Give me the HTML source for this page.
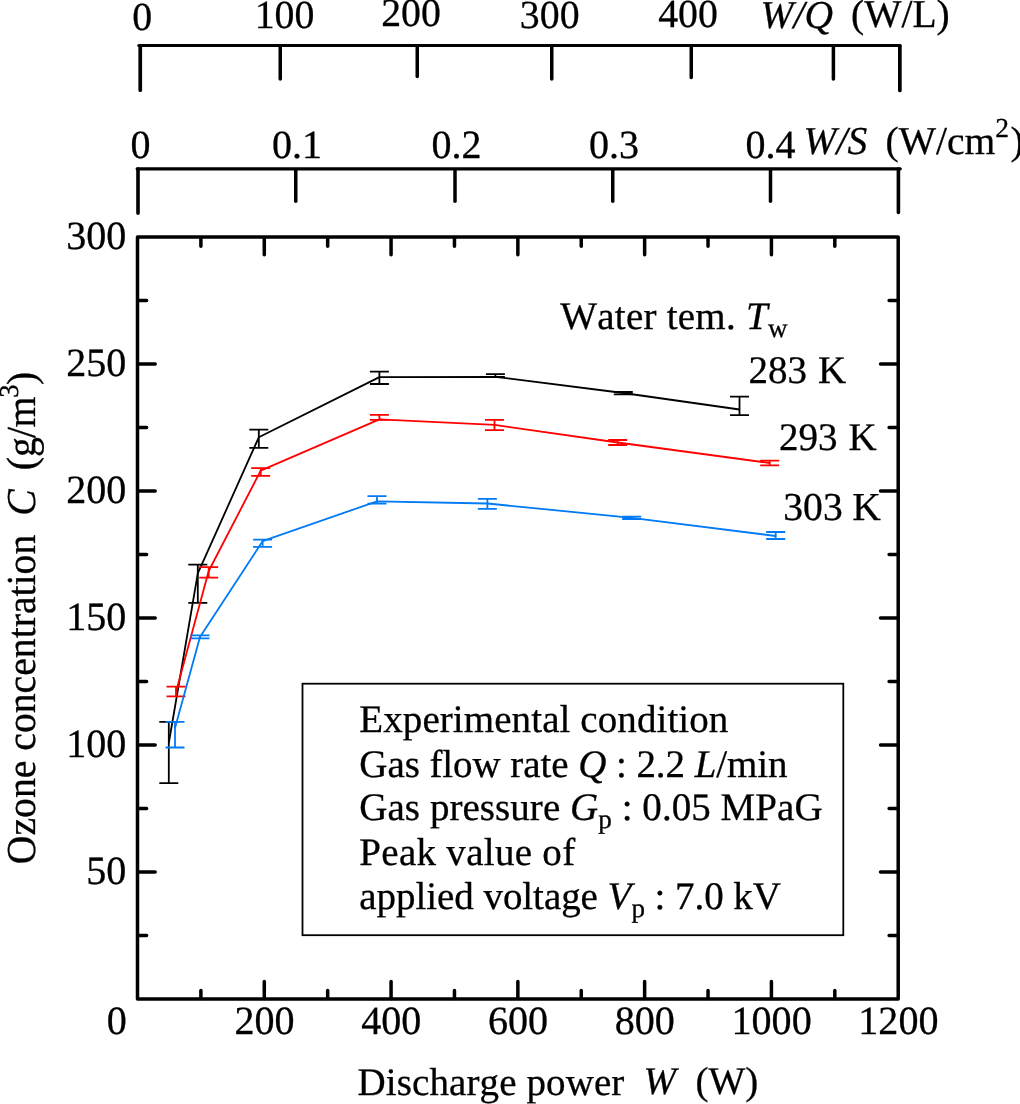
<!DOCTYPE html>
<html lang="en"><head><meta charset="utf-8"><title>Ozone concentration vs discharge power</title>
<style>html,body{margin:0;padding:0;background:#fff}body{width:1020px;height:1104px;overflow:hidden}svg{display:block;font-family:"Liberation Serif","Times New Roman",serif;font-size:39px;fill:#000;font-kerning:none;font-variant-ligatures:none;text-rendering:geometricPrecision}text{stroke:#000;stroke-width:0.3px}.i{font-style:italic}.ax{stroke:#000;stroke-width:3.5;fill:none;stroke-linecap:round;stroke-linejoin:round}.tk{stroke:#000;stroke-width:3.5;fill:none;stroke-linecap:round}.k{stroke:#000}.r{stroke:#ff0000}.b{stroke:#007af5}.d{stroke-width:1.8;fill:none;stroke-linejoin:round}</style></head><body>
<svg width="1020" height="1104" viewBox="0 0 1020 1104">
<rect width="1020" height="1104" fill="#fff"/>
<g id="axis-wq">
<path class="ax" style="stroke-width:3.2" d="M138.9,45.5 H900"/>
<path class="ax" style="stroke-width:3.7" d="M140.25,46 V90.2 M899.85,46 V90.4"/>
<path class="tk" d="M280.25,46 V78.9"/>
<path class="tk" d="M417.25,46 V76.4"/>
<path class="tk" d="M551.75,46 V78.9"/>
<path class="tk" d="M691.25,46 V77.4"/>
<path class="tk" d="M833.4,46 V78.9"/>
<text x="142.3" y="30.1" text-anchor="middle" font-size="39.8">0</text>
<text x="284.5" y="27.9" text-anchor="middle" font-size="39.8">100</text>
<text x="411" y="26" text-anchor="middle" font-size="39.8">200</text>
<text x="549.7" y="27.8" text-anchor="middle" font-size="39.8">300</text>
<text x="688" y="27" text-anchor="middle" font-size="39.8">400</text>
<text x="760.5" y="27.5" font-size="39.5" class="i">W/Q</text>
<text x="851" y="27.2" font-size="39.5">(W/L)</text>
</g>
<g id="axis-ws">
<path class="ax" style="stroke-width:3.3" d="M137.2,168.85 H900.2"/>
<path class="ax" style="stroke-width:3.6" d="M138,169 V213.2 M898.4,169 V212.4"/>
<path class="tk" d="M295.75,169.5 V201.2"/>
<path class="tk" d="M455,169.5 V201.2"/>
<path class="tk" d="M612.75,169.5 V201.2"/>
<path class="tk" d="M770.5,169.5 V201.2"/>
<text x="140.5" y="157.7" text-anchor="middle" font-size="40">0</text>
<text x="297" y="157.7" text-anchor="middle" font-size="40">0.1</text>
<text x="456.6" y="157.7" text-anchor="middle" font-size="40">0.2</text>
<text x="614" y="157.7" text-anchor="middle" font-size="40">0.3</text>
<text x="770.6" y="157.7" text-anchor="middle" font-size="40">0.4</text>
<text x="803.5" y="153.8" font-size="39.5" class="i">W/S</text>
<text x="885.5" y="153.9" font-size="39.5">(W/cm<tspan dy="-17" font-size="27.5">2</tspan><tspan dy="17" dx="1.5">)</tspan></text>
</g>
<g id="frame">
<rect class="ax" x="137.5" y="236.89" width="760.704" height="762.21"/>
<path class="tk" d="M200.892,998.6 v-8 M200.892,237.39 v8.9"/>
<path class="tk" d="M264.284,998.6 v-17 M264.284,237.39 v17.4"/>
<path class="tk" d="M327.676,998.6 v-8 M327.676,237.39 v8.9"/>
<path class="tk" d="M391.068,998.6 v-17 M391.068,237.39 v17.4"/>
<path class="tk" d="M454.46,998.6 v-8 M454.46,237.39 v8.9"/>
<path class="tk" d="M517.852,998.6 v-17 M517.852,237.39 v17.4"/>
<path class="tk" d="M581.244,998.6 v-8 M581.244,237.39 v8.9"/>
<path class="tk" d="M644.636,998.6 v-17 M644.636,237.39 v17.4"/>
<path class="tk" d="M708.028,998.6 v-8 M708.028,237.39 v8.9"/>
<path class="tk" d="M771.42,998.6 v-17 M771.42,237.39 v17.4"/>
<path class="tk" d="M834.812,998.6 v-8 M834.812,237.39 v8.9"/>
<path class="tk" d="M138,935.582 h8.6 M897.704,935.582 h-8.6"/>
<path class="tk" d="M138,872.065 h17.2 M897.704,872.065 h-17.2"/>
<path class="tk" d="M138,808.548 h8.6 M897.704,808.548 h-8.6"/>
<path class="tk" d="M138,745.03 h17.2 M897.704,745.03 h-17.2"/>
<path class="tk" d="M138,681.513 h8.6 M897.704,681.513 h-8.6"/>
<path class="tk" d="M138,617.995 h17.2 M897.704,617.995 h-17.2"/>
<path class="tk" d="M138,554.477 h8.6 M897.704,554.477 h-8.6"/>
<path class="tk" d="M138,490.96 h17.2 M897.704,490.96 h-17.2"/>
<path class="tk" d="M138,427.442 h8.6 M897.704,427.442 h-8.6"/>
<path class="tk" d="M138,363.925 h17.2 M897.704,363.925 h-17.2"/>
<path class="tk" d="M138,300.408 h8.6 M897.704,300.408 h-8.6"/>
</g>
<g id="labels">
<text x="264.484" y="1033.8" text-anchor="middle" font-size="40.1">200</text>
<text x="391.268" y="1033.8" text-anchor="middle" font-size="40.1">400</text>
<text x="518.052" y="1033.8" text-anchor="middle" font-size="40.1">600</text>
<text x="644.836" y="1033.8" text-anchor="middle" font-size="40.1">800</text>
<text x="771.62" y="1033.8" text-anchor="middle" font-size="40.1">1000</text>
<text x="898.404" y="1033.8" text-anchor="middle" font-size="40.1">1200</text>
<text x="116.7" y="1033.8" text-anchor="middle" font-size="40.1">0</text>
<text x="126.4" y="884.265" text-anchor="end" font-size="40.1">50</text>
<text x="126.4" y="757.23" text-anchor="end" font-size="40.1">100</text>
<text x="126.4" y="630.195" text-anchor="end" font-size="40.1">150</text>
<text x="126.4" y="503.16" text-anchor="end" font-size="40.1">200</text>
<text x="126.4" y="376.125" text-anchor="end" font-size="40.1">250</text>
<text x="126.4" y="249.09" text-anchor="end" font-size="40.1">300</text>
<text x="357.6" y="1094.7" letter-spacing="0.1">Discharge power</text>
<text x="643.5" y="1094.3" class="i">W</text>
<text x="695.5" y="1094.3">(W)</text>
<text transform="translate(35.2,864.2) rotate(-90) scale(1,1.035)" font-size="39.7">Ozone concentration<tspan dx="19" class="i">C</tspan><tspan dx="19">(g</tspan><tspan dx="-0.9">/</tspan><tspan dx="-0.4">m</tspan><tspan dy="-17" dx="-1.2" font-size="26.5">3</tspan><tspan dy="17" dx="-0.5">)</tspan></text>
</g>
<g id="data">
<polyline class="d k" points="168.8,743 197.8,573.4 258.8,437.3 379.4,377.1 495.4,376.8 623.3,393 739.5,409.5"/>
<path class="d k" d="M168.8,721.8 V783.2 M159.3,721.8 h19 M159.3,783.2 h19 M197.8,564.6 V602.9 M188.3,564.6 h19 M188.3,602.9 h19 M258.8,429.7 V447.8 M249.3,429.7 h19 M249.3,447.8 h19 M379.4,371.6 V384 M369.9,371.6 h19 M369.9,384 h19 M495.4,374.1 V376.9 M485.9,374.1 h19 M485.9,376.9 h19 M623.3,392 V394.3 M613.8,392 h19 M613.8,394.3 h19 M739.5,396.6 V415.1 M730,396.6 h19 M730,415.1 h19"/>
<polyline class="d r" points="176,692 208.7,571 260.7,470.7 379.4,419.4 494.5,424.9 617.7,442.5 769.7,463"/>
<path class="d r" d="M176,686.6 V696.4 M166.5,686.6 h19 M166.5,696.4 h19 M208.7,567.2 V577.6 M199.2,567.2 h19 M199.2,577.6 h19 M260.7,468.2 V475.8 M251.2,468.2 h19 M251.2,475.8 h19 M379.4,414.8 V419.8 M369.9,414.8 h19 M369.9,419.8 h19 M494.5,419.8 V430.2 M485,419.8 h19 M485,430.2 h19 M617.7,440 V445 M608.2,440 h19 M608.2,445 h19 M769.7,460.7 V465.3 M760.2,460.7 h19 M760.2,465.3 h19"/>
<polyline class="d b" points="175,728 200,637 262.6,541.2 377,501.3 487.4,503.5 631.7,517.8 775.7,536"/>
<path class="d b" d="M175,721.8 V747.5 M165.5,721.8 h19 M165.5,747.5 h19 M200,635.4 V638.4 M190.5,635.4 h19 M190.5,638.4 h19 M262.6,539.7 V546.9 M253.1,539.7 h19 M253.1,546.9 h19 M377,496.1 V503.7 M367.5,496.1 h19 M367.5,503.7 h19 M487.4,498.8 V508.8 M477.9,498.8 h19 M477.9,508.8 h19 M631.7,516.7 V519 M622.2,516.7 h19 M622.2,519 h19 M775.7,532 V539 M766.2,532 h19 M766.2,539 h19"/>
</g>
<g id="legend">
<text x="560.2" y="328.7" letter-spacing="0.25">Water tem. <tspan class="i">T</tspan><tspan dy="8" font-size="27">w</tspan></text>
<text x="748.4" y="382.6">283<tspan dx="11.2">K</tspan></text>
<text x="779" y="450">293<tspan dx="11">K</tspan></text>
<text x="783.3" y="520.3" font-size="39.6">303<tspan dx="9.6">K</tspan></text>
</g>
<g id="conditions">
<rect x="302.5" y="683.7" width="540.8" height="251.5" fill="#fff" stroke="#000" stroke-width="1.8"/>
<text x="359.3" y="732.4" letter-spacing="0.09">Experimental condition</text>
<text x="359.3" y="776.8" letter-spacing="-0.07">Gas flow rate <tspan class="i">Q</tspan> : 2.2 <tspan class="i">L</tspan>/min</text>
<text x="359.3" y="820.3" letter-spacing="0.05">Gas pressure <tspan class="i">G</tspan><tspan dy="8" font-size="27">p</tspan><tspan dy="-8"> : 0.05 MPaG</tspan></text>
<text x="359.3" y="865.1" letter-spacing="0.3">Peak value of</text>
<text x="359.3" y="909" letter-spacing="-0.05">applied voltage <tspan class="i">V</tspan><tspan dy="8" font-size="27">p</tspan><tspan dy="-8"> : 7.0 kV</tspan></text>
</g>
</svg></body></html>
